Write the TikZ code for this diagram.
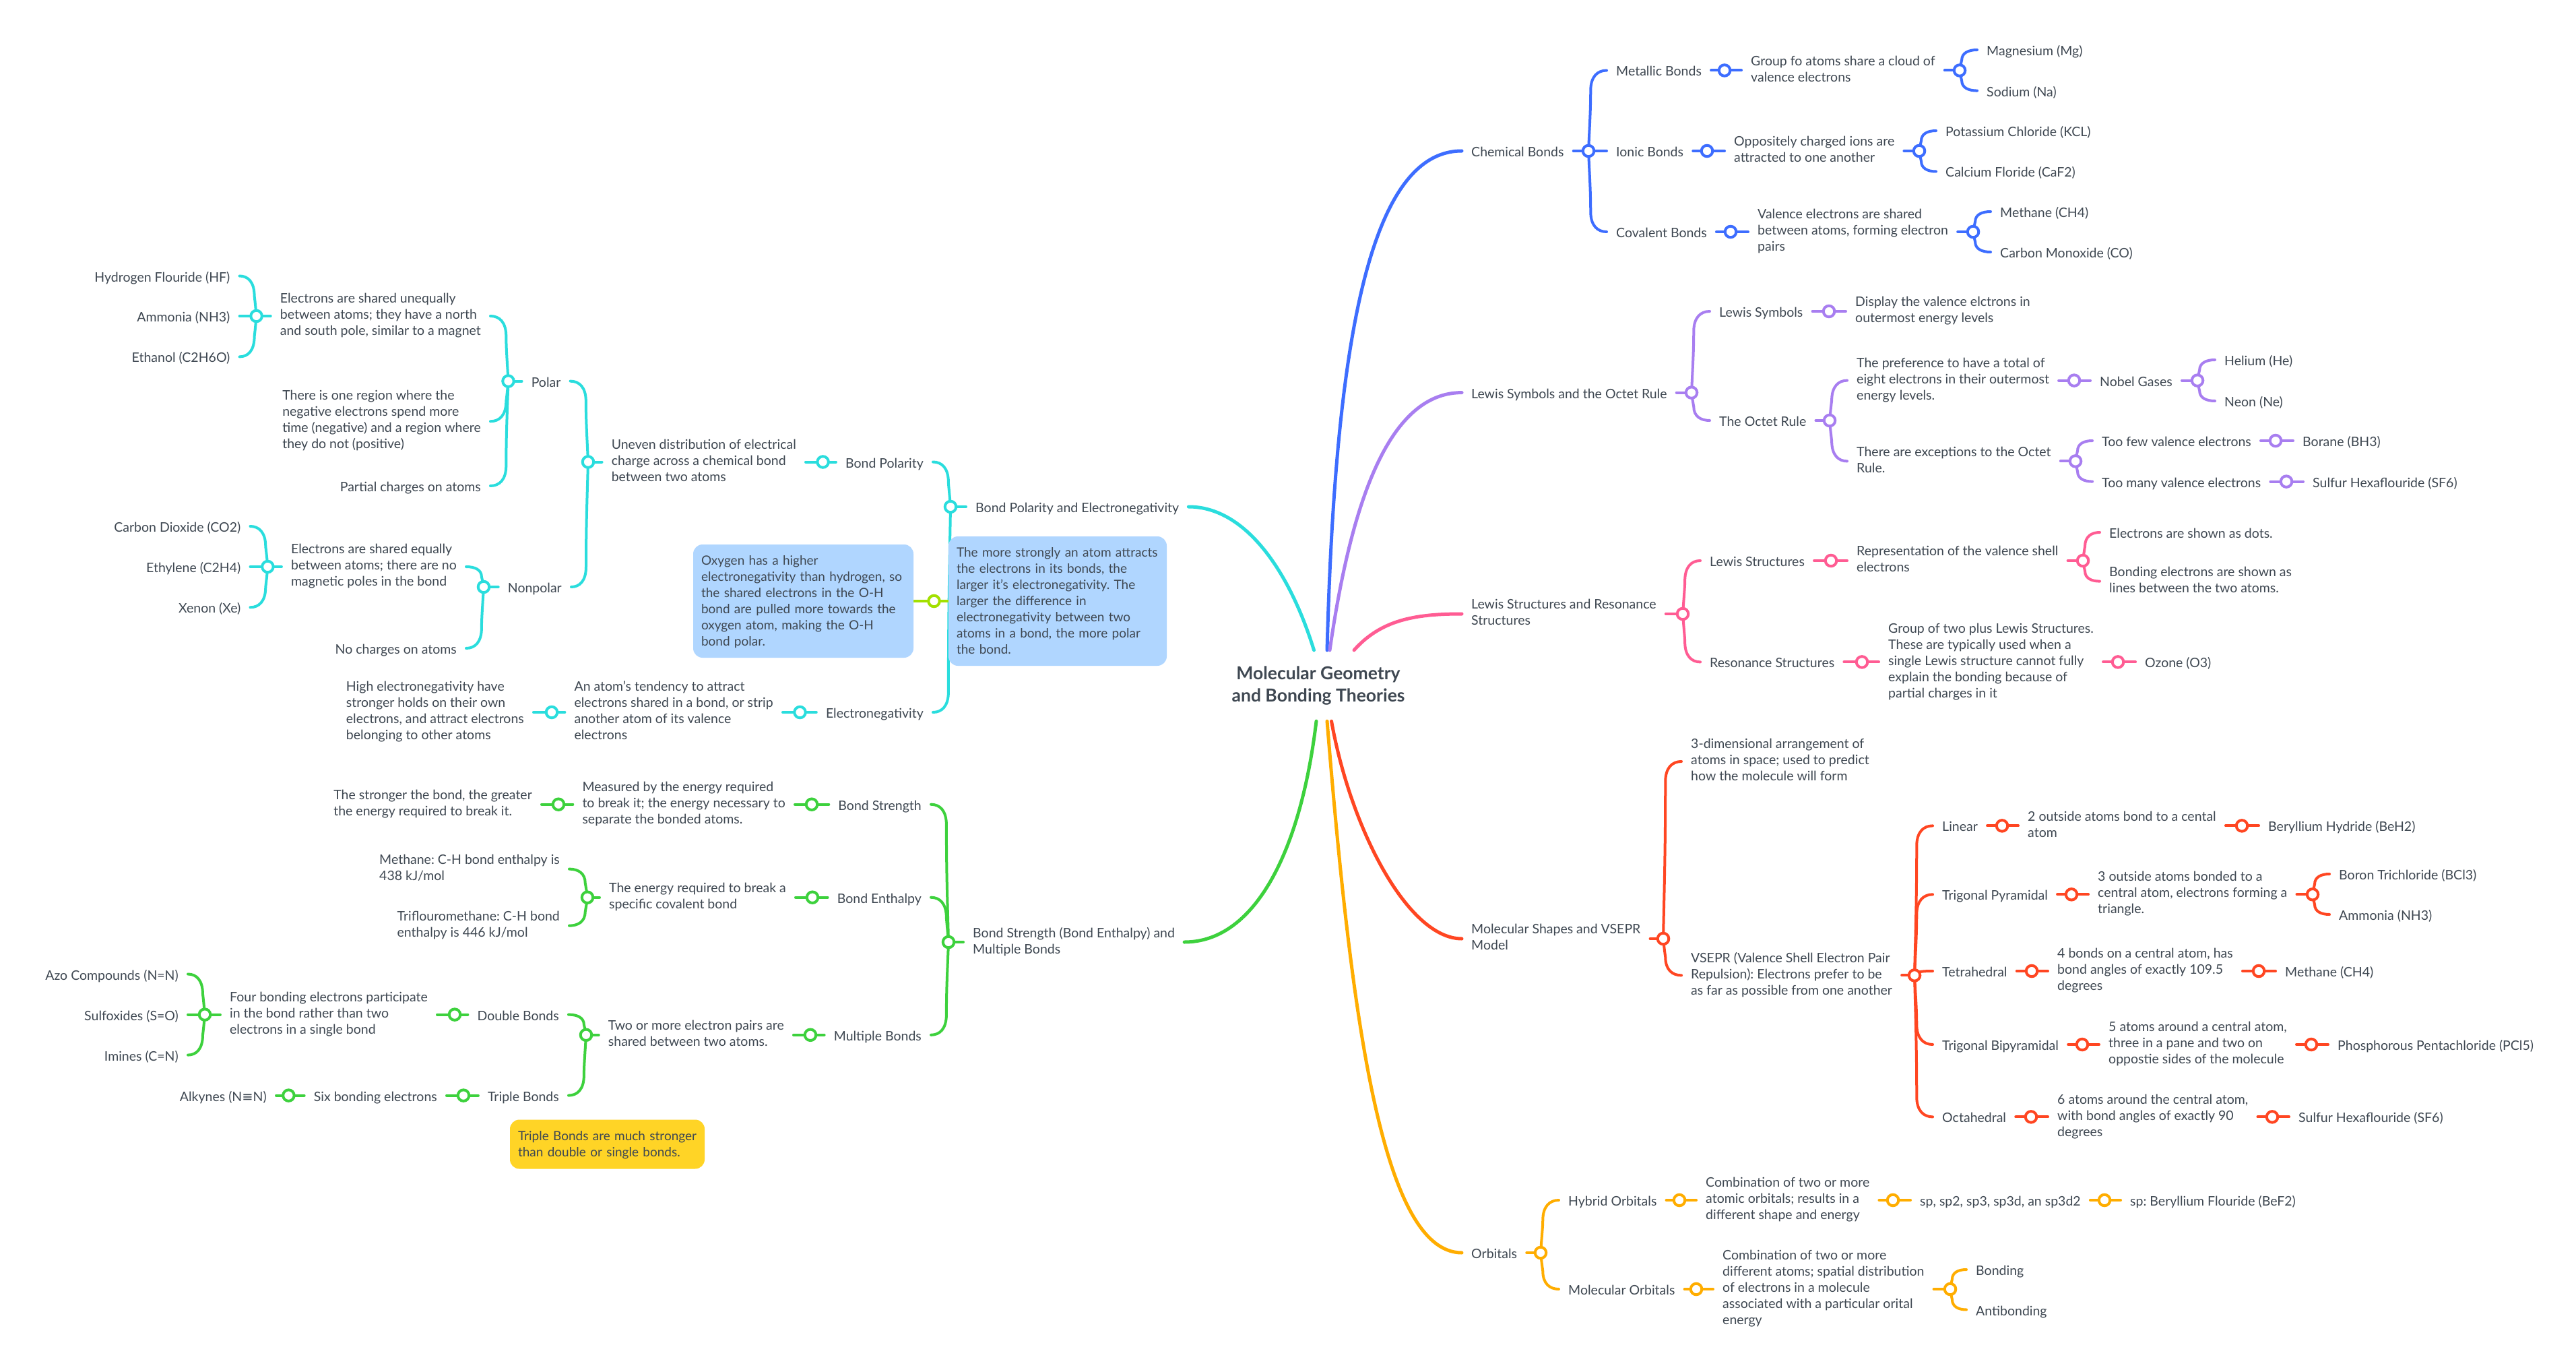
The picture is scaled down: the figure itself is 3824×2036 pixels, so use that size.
\documentclass[tikz,border=0pt]{standalone}
\usepackage{fontspec}
\setmainfont{Lato}
\newfontfamily\symfont{DejaVu Sans}
\usetikzlibrary{backgrounds,calc}
\definecolor{cBlue}{HTML}{3D6DFF}
\definecolor{cPurple}{HTML}{A87EF0}
\definecolor{cPink}{HTML}{FF5C93}
\definecolor{cCyan}{HTML}{2ADDDD}
\definecolor{cGreen}{HTML}{3DD13D}
\definecolor{cOrange}{HTML}{FFAD00}
\definecolor{cRed}{HTML}{FF4622}
\definecolor{cLime}{HTML}{A3E000}
\definecolor{cText}{HTML}{3F4852}
\definecolor{cNote}{HTML}{B0D6FF}
\definecolor{cYellow}{HTML}{FFD426}
\tikzset{
  txt/.style={font=\fontsize{19.5}{24}\selectfont\frenchspacing,text=cText,align=left,inner xsep=14pt,inner ysep=0pt,execute at begin node={\rule{0pt}{22pt}},execute at end node={\rule[-5pt]{0pt}{5pt}}},
  lab/.style={txt,anchor=west,xshift=-14pt},
  rab/.style={txt,anchor=east,xshift=14pt},
  dot/.style={circle,draw=#1,fill=white,line width=4pt,minimum size=16.5pt,inner sep=0pt},
  link/.style={line width=4pt,line cap=round},
  mainlink/.style={line width=5pt,line cap=round},
  note/.style={font=\fontsize{19}{24}\selectfont\frenchspacing,text=cText,align=left,inner ysep=0pt,rounded corners=14pt,fill=cNote,inner xsep=12pt,anchor=center,execute at begin node={\rule{0pt}{16pt}},execute at end node={\rule[-4pt]{0pt}{4pt}}}
}
\newcommand\mmbra[3]{\draw[link,#1] let \p1=(#2.center),\p2=(#3),\n1={\x2-\x1},\n2={\y2-\y1},\n3={min(30,abs(\n2)*0.5)*sign(\n2)} in (\p1) .. controls (\x1+0.06*\n1,\y1+0.3*\n2) and (\x1+0.12*\n1,\y1+0.5*\n2) .. (\x1+0.12*\n1,\y2-\n3) .. controls (\x1+0.12*\n1,\y2-0.3*\n3) and (\x1+0.5*\n1,\y2) .. (\p2);}
\begin{document}
\begin{tikzpicture}[x=1pt,y=-1pt]
\useasboundingbox (0,0) rectangle (3824,2036);
% root
\node[font=\fontsize{26.5}{33}\selectfont\bfseries,text=cText,align=center,minimum height=105pt,minimum width=270pt,inner xsep=0pt,inner ysep=0pt,execute at begin node={\rule{0pt}{30pt}},execute at end node={\rule[-5pt]{0pt}{5pt}}] (root) at (1957,1017.5) {Molecular Geometry\\and Bonding Theories};
% blue
\node[lab] (chem) at (2184,224) {Chemical Bonds};
\node[dot=cBlue] (jchem) at (2358,224) {};
\node[lab] (met) at (2399,104.5) {Metallic Bonds};
\node[dot=cBlue] (dmet) at (2560,104.5) {};
\node[lab] (metd) at (2599,104.5) {Group fo atoms share a cloud of\\valence electrons};
\node[dot=cBlue] (jmetd) at (2909,104.5) {};
\node[lab] (mg) at (2949,74) {Magnesium (Mg)};
\node[lab] (na) at (2949,134.6) {Sodium (Na)};
\node[lab] (ion) at (2399,224) {Ionic Bonds};
\node[dot=cBlue] (dion) at (2534,224) {};
\node[lab] (iond) at (2574,224) {Oppositely charged ions are\\attracted to one another};
\node[dot=cBlue] (jiond) at (2849,224) {};
\node[lab] (kcl) at (2888,194) {Potassium Chloride (KCL)};
\node[lab] (caf) at (2888,254.5) {Calcium Floride (CaF2)};
\node[lab] (cov) at (2399,344) {Covalent Bonds};
\node[dot=cBlue] (dcov) at (2569,344) {};
\node[lab] (covd) at (2609,344) {Valence electrons are shared\\between atoms, forming electron\\pairs};
\node[dot=cBlue] (jcovd) at (2929,344) {};
\node[lab] (meth) at (2969,314) {Methane (CH4)};
\node[lab] (cmo) at (2969,374) {Carbon Monoxide (CO)};
% purple
\node[lab] (lso) at (2184,582.6) {Lewis Symbols and the Octet Rule};
\node[dot=cPurple] (jlso) at (2511,582.6) {};
\node[lab] (ls) at (2552,462) {Lewis Symbols};
\node[dot=cPurple] (dls) at (2715,462) {};
\node[lab] (lsd) at (2754,462) {Display the valence elctrons in\\outermost energy levels};
\node[lab] (oct) at (2552,624) {The Octet Rule};
\node[dot=cPurple] (joct) at (2716,624) {};
\node[lab] (pref) at (2756,564.6) {The preference to have a total of\\eight electrons in their outermost\\energy levels.};
\node[dot=cPurple] (dpref) at (3079,564.6) {};
\node[lab] (nob) at (3117,564.6) {Nobel Gases};
\node[dot=cPurple] (jnob) at (3262,564.6) {};
\node[lab] (he) at (3302,534) {Helium (He)};
\node[lab] (ne) at (3302,595) {Neon (Ne)};
\node[lab] (exc) at (2756,684.4) {There are exceptions to the Octet\\Rule.};
\node[dot=cPurple] (jexc) at (3081,684.4) {};
\node[lab] (few) at (3120,654) {Too few valence electrons};
\node[dot=cPurple] (dfew) at (3378,654) {};
\node[lab] (bor) at (3418,654) {Borane (BH3)};
\node[lab] (many) at (3120,714.6) {Too many valence electrons};
\node[dot=cPurple] (dmany) at (3394,714.6) {};
\node[lab] (sf) at (3433,714.6) {Sulfur Hexaflouride (SF6)};
% pink
\node[lab] (lsr) at (2184,911) {Lewis Structures and Resonance\\Structures};
\node[dot=cPink] (jlsr) at (2498,911) {};
\node[lab] (lst) at (2538,832) {Lewis Structures};
\node[dot=cPink] (dlst) at (2718,832) {};
\node[lab] (rep) at (2756,832) {Representation of the valence shell\\electrons};
\node[dot=cPink] (jrep) at (3092,832) {};
\node[lab] (dots) at (3131,790) {Electrons are shown as dots.};
\node[lab] (lines) at (3131,862.6) {Bonding electrons are shown as\\lines between the two atoms.};
\node[lab] (res) at (2538,982.4) {Resonance Structures};
\node[dot=cPink] (dres) at (2764,982.4) {};
\node[lab] (grp) at (2803,982.4) {Group of two plus Lewis Structures.\\These are typically used when a\\single Lewis structure cannot fully\\explain the bonding because of\\partial charges in it};
\node[dot=cPink] (dgrp) at (3144,982.4) {};
\node[lab] (ozo) at (3184,982.4) {Ozone (O3)};
% red
\node[lab] (msv) at (2184,1393) {Molecular Shapes and VSEPR\\Model};
\node[dot=cRed] (jmsv) at (2469,1393) {};
\node[lab] (tdim) at (2510,1130) {3-dimensional arrangement of\\atoms in space; used to predict\\how the molecule will form};
\node[lab] (vsp) at (2510,1447.4) {VSEPR (Valence Shell Electron Pair\\Repulsion): Electrons prefer to be\\as far as possible from one another};
\node[dot=cRed] (jvsp) at (2842,1447.4) {};
\node[lab] (lin) at (2883,1225.4) {Linear};
\node[dot=cRed] (dlin) at (2972,1225.4) {};
\node[lab] (lind) at (3010,1225.4) {2 outside atoms bond to a cental\\atom};
\node[dot=cRed] (dlind) at (3328,1225.4) {};
\node[lab] (beh) at (3367,1225.4) {Beryllium Hydride (BeH2)};
\node[lab] (tpy) at (2883,1327.3) {Trigonal Pyramidal};
\node[dot=cRed] (dtpy) at (3075,1327.3) {};
\node[lab] (tpyd) at (3114,1327.3) {3 outside atoms bonded to a\\central atom, electrons forming a\\triangle.};
\node[dot=cRed] (jtpyd) at (3433,1327.3) {};
\node[lab] (bcl) at (3472,1297) {Boron Trichloride (BCl3)};
\node[lab] (nh) at (3472,1357) {Ammonia (NH3)};
\node[lab] (tet) at (2883,1441) {Tetrahedral};
\node[dot=cRed] (dtet) at (3016,1441) {};
\node[lab] (tetd) at (3054,1441) {4 bonds on a central atom, has\\bond angles of exactly 109.5\\degrees};
\node[dot=cRed] (dtetd) at (3353,1441) {};
\node[lab] (mch) at (3392,1441) {Methane (CH4)};
\node[lab] (tbp) at (2883,1550) {Trigonal Bipyramidal};
\node[dot=cRed] (dtbp) at (3091,1550) {};
\node[lab] (tbpd) at (3130,1550) {5 atoms around a central atom,\\three in a pane and two on\\oppostie sides of the molecule};
\node[dot=cRed] (dtbpd) at (3431,1550) {};
\node[lab] (pcl) at (3470,1550) {Phosphorous Pentachloride (PCl5)};
\node[lab] (oh) at (2883,1657.4) {Octahedral};
\node[dot=cRed] (doh) at (3015,1657.4) {};
\node[lab] (ohd) at (3054,1657.4) {6 atoms around the central atom,\\with bond angles of exactly 90\\degrees};
\node[dot=cRed] (dohd) at (3373,1657.4) {};
\node[lab] (sfb) at (3412,1657.4) {Sulfur Hexaflouride (SF6)};
% orange
\node[lab] (orb) at (2184,1859) {Orbitals};
\node[dot=cOrange] (jorb) at (2287,1859) {};
\node[lab] (hyb) at (2328,1781) {Hybrid Orbitals};
\node[dot=cOrange] (dhyb) at (2493,1781) {};
\node[lab] (hybd) at (2532,1781) {Combination of two or more\\atomic orbitals; results in a\\different shape and energy};
\node[dot=cOrange] (dhybd) at (2810,1781) {};
\node[lab] (spx) at (2850,1781) {sp, sp2, sp3, sp3d, an sp3d2};
\node[dot=cOrange] (dspx) at (3124,1781) {};
\node[lab] (spb) at (3162,1781) {sp: Beryllium Flouride (BeF2)};
\node[lab] (mol) at (2328,1913) {Molecular Orbitals};
\node[dot=cOrange] (dmol) at (2518,1913) {};
\node[lab] (mold) at (2557,1913) {Combination of two or more\\different atoms; spatial distribution\\of electrons in a molecule\\associated with a particular orital\\energy};
\node[dot=cOrange] (jmold) at (2895,1913) {};
\node[lab] (bon) at (2933,1884) {Bonding};
\node[lab] (abon) at (2933,1943.5) {Antibonding};
% cyan
\node[lab] (bpe) at (1448,752) {Bond Polarity and Electronegativity};
\node[dot=cCyan] (jbpe) at (1411,752) {};
\node[rab] (bp) at (1371,685.5) {Bond Polarity};
\node[dot=cCyan] (dbp) at (1221.6,685.5) {};
\node[rab] (bpd) at (1182,685.5) {Uneven distribution of electrical\\charge across a chemical bond\\between two atoms};
\node[dot=cCyan] (jbpd) at (873,685.5) {};
\node[rab] (pol) at (832.6,565.6) {Polar};
\node[dot=cCyan] (jpol) at (754.5,565.6) {};
\node[rab] (une) at (714,469) {Electrons are shared unequally\\between atoms; they have a north\\and south pole, similar to a magnet};
\node[dot=cCyan] (june) at (380.6,469) {};
\node[rab] (hf) at (341.6,409.5) {Hydrogen Flouride (HF)};
\node[rab] (amm) at (341.6,469) {Ammonia (NH3)};
\node[rab] (eth) at (341.6,529.4) {Ethanol (C2H6O)};
\node[rab] (reg) at (714,625.3) {There is one region where the\\negative electrons spend more\\time (negative) and a region where\\they do not (positive)};
\node[rab] (par) at (714,721) {Partial charges on atoms};
\node[rab] (npl) at (834,871) {Nonpolar};
\node[dot=cCyan] (jnpl) at (718,871) {};
\node[rab] (equ) at (678,841) {Electrons are shared equally\\between atoms; there are no\\magnetic poles in the bond};
\node[dot=cCyan] (jequ) at (397.4,841) {};
\node[rab] (co2) at (357.5,781) {Carbon Dioxide (CO2)};
\node[rab] (c2h) at (357.5,841) {Ethylene (C2H4)};
\node[rab] (xe) at (357.5,901.3) {Xenon (Xe)};
\node[rab] (noc) at (678,962) {No charges on atoms};
\node[rab] (en) at (1371,1057) {Electronegativity};
\node[dot=cCyan] (den) at (1187.5,1057) {};
\node[rab] (end) at (1148,1057) {An atom's tendency to attract\\electrons shared in a bond, or strip\\another atom of its valence\\electrons};
\node[dot=cCyan] (dend) at (819,1057) {};
\node[rab] (hig) at (778,1057) {High electronegativity have\\stronger holds on their own\\electrons, and attract electrons\\belonging to other atoms};
% notes
\node[note,minimum width=327pt,minimum height=168pt,text width=303pt] (noteA) at (1192.5,892) {Oxygen has a higher\\electronegativity than hydrogen, so\\the shared electrons in the O-H\\bond are pulled more towards the\\oxygen atom, making the O-H\\bond polar.};
\node[note,minimum width=324pt,minimum height=192pt,text width=300pt] (noteB) at (1570,892) {The more strongly an atom attracts\\the electrons in its bonds, the\\larger it's electronegativity. The\\larger the difference in\\electronegativity between two\\atoms in a bond, the more polar\\the bond.};
\node[dot=cLime] (dnote) at (1386.5,892) {};
% green
\node[lab] (bse) at (1444,1398) {Bond Strength (Bond Enthalpy) and\\Multiple Bonds};
\node[dot=cGreen] (jbse) at (1408,1398) {};
\node[rab] (bs) at (1368,1193.7) {Bond Strength};
\node[dot=cGreen] (dbs) at (1205,1193.7) {};
\node[rab] (bsd) at (1166,1193.7) {Measured by the energy required\\to break it; the energy necessary to\\separate the bonded atoms.};
\node[dot=cGreen] (dbsd) at (829,1193.7) {};
\node[rab] (str) at (790,1193.7) {The stronger the bond, the greater\\the energy required to break it.};
\node[rab] (be) at (1368,1331.7) {Bond Enthalpy};
\node[dot=cGreen] (dbe) at (1206,1331.7) {};
\node[rab] (bed) at (1167,1331.7) {The energy required to break a\\specific covalent bond};
\node[dot=cGreen] (jbed) at (872,1331.7) {};
\node[rab] (mtn) at (831,1289.6) {Methane: C-H bond enthalpy is\\438 kJ/mol};
\node[rab] (tri) at (831,1373.7) {Triflouromethane: C-H bond\\enthalpy is 446 kJ/mol};
\node[rab] (mb) at (1368,1535.8) {Multiple Bonds};
\node[dot=cGreen] (dmb) at (1203,1535.8) {};
\node[rab] (mbd) at (1164,1535.8) {Two or more electron pairs are\\shared between two atoms.};
\node[dot=cGreen] (jmbd) at (870,1535.8) {};
\node[rab] (dbl) at (830,1505.6) {Double Bonds};
\node[dot=cGreen] (ddbl) at (675,1505.6) {};
\node[rab] (dbld) at (635,1505.6) {Four bonding electrons participate\\in the bond rather than two\\electrons in a single bond};
\node[dot=cGreen] (jdbld) at (304,1505.6) {};
\node[rab] (azo) at (265,1445.5) {Azo Compounds (N=N)};
\node[rab] (sul) at (265,1505.6) {Sulfoxides (S=O)};
\node[rab] (imi) at (265,1565.6) {Imines (C=N)};
\node[rab] (tpl) at (830,1625.6) {Triple Bonds};
\node[dot=cGreen] (dtpl) at (688,1625.6) {};
\node[rab] (six) at (649,1625.6) {Six bonding electrons};
\node[dot=cGreen] (dsix) at (428.4,1625.6) {};
\node[rab] (alk) at (396,1625.6) {Alkynes (N{\symfont\char"2261}N)};
\node[note,fill=cYellow,minimum width=289pt,minimum height=73pt,text width=265pt] (noteC) at (901.5,1698) {Triple Bonds are much stronger\\than double or single bonds.};
% connectors
\begin{pgfonlayer}{background}
\fill[white] (0,0) rectangle (3824,2036);
\draw[mainlink,cBlue] ([xshift=13pt]root.north) .. controls (1982,500) and (2035,224) .. (chem.west);
\draw[mainlink,cPurple] ([xshift=17pt]root.north) .. controls (2005,750) and (2060,582.6) .. (lso.west);
\draw[mainlink,cPink] ([xshift=53pt]root.north) .. controls (2050,920) and (2100,911) .. (lsr.west);
\draw[mainlink,cRed] ([xshift=19.5pt]root.south) .. controls (2005,1230) and (2090,1393) .. (msv.west);
\draw[mainlink,cOrange] ([xshift=13pt]root.south) .. controls (2005,1500) and (2050,1859) .. (orb.west);
\draw[mainlink,cCyan] ([xshift=-6.5pt]root.north) .. controls (1915,850) and (1850,752) .. (bpe.east);
\draw[mainlink,cGreen] ([xshift=-3pt]root.south) .. controls (1930,1270) and (1860,1398) .. (bse.east);
% blue
\draw[link,cBlue] (chem.east) -- (jchem);
\mmbra{cBlue}{jchem}{met.west}\mmbra{cBlue}{jchem}{ion.west}\mmbra{cBlue}{jchem}{cov.west}
\draw[link,cBlue] (met.east) -- (dmet) -- (metd.west);
\draw[link,cBlue] (metd.east) -- (jmetd);
\mmbra{cBlue}{jmetd}{mg.west}\mmbra{cBlue}{jmetd}{na.west}
\draw[link,cBlue] (ion.east) -- (dion) -- (iond.west);
\draw[link,cBlue] (iond.east) -- (jiond);
\mmbra{cBlue}{jiond}{kcl.west}\mmbra{cBlue}{jiond}{caf.west}
\draw[link,cBlue] (cov.east) -- (dcov) -- (covd.west);
\draw[link,cBlue] (covd.east) -- (jcovd);
\mmbra{cBlue}{jcovd}{meth.west}\mmbra{cBlue}{jcovd}{cmo.west}
% purple
\draw[link,cPurple] (lso.east) -- (jlso);
\mmbra{cPurple}{jlso}{ls.west}\mmbra{cPurple}{jlso}{oct.west}
\draw[link,cPurple] (ls.east) -- (dls) -- (lsd.west);
\draw[link,cPurple] (oct.east) -- (joct);
\mmbra{cPurple}{joct}{pref.west}\mmbra{cPurple}{joct}{exc.west}
\draw[link,cPurple] (pref.east) -- (dpref) -- (nob.west);
\draw[link,cPurple] (nob.east) -- (jnob);
\mmbra{cPurple}{jnob}{he.west}\mmbra{cPurple}{jnob}{ne.west}
\draw[link,cPurple] (exc.east) -- (jexc);
\mmbra{cPurple}{jexc}{few.west}\mmbra{cPurple}{jexc}{many.west}
\draw[link,cPurple] (few.east) -- (dfew) -- (bor.west);
\draw[link,cPurple] (many.east) -- (dmany) -- (sf.west);
% pink
\draw[link,cPink] (lsr.east) -- (jlsr);
\mmbra{cPink}{jlsr}{lst.west}\mmbra{cPink}{jlsr}{res.west}
\draw[link,cPink] (lst.east) -- (dlst) -- (rep.west);
\draw[link,cPink] (rep.east) -- (jrep);
\mmbra{cPink}{jrep}{dots.west}\mmbra{cPink}{jrep}{lines.west}
\draw[link,cPink] (res.east) -- (dres) -- (grp.west);
\draw[link,cPink] (grp.east) -- (dgrp) -- (ozo.west);
% red
\draw[link,cRed] (msv.east) -- (jmsv);
\mmbra{cRed}{jmsv}{tdim.west}\mmbra{cRed}{jmsv}{vsp.west}
\draw[link,cRed] (vsp.east) -- (jvsp);
\mmbra{cRed}{jvsp}{lin.west}\mmbra{cRed}{jvsp}{tpy.west}\mmbra{cRed}{jvsp}{tet.west}\mmbra{cRed}{jvsp}{tbp.west}\mmbra{cRed}{jvsp}{oh.west}
\draw[link,cRed] (lin.east) -- (dlin) -- (lind.west);
\draw[link,cRed] (lind.east) -- (dlind) -- (beh.west);
\draw[link,cRed] (tpy.east) -- (dtpy) -- (tpyd.west);
\draw[link,cRed] (tpyd.east) -- (jtpyd);
\mmbra{cRed}{jtpyd}{bcl.west}\mmbra{cRed}{jtpyd}{nh.west}
\draw[link,cRed] (tet.east) -- (dtet) -- (tetd.west);
\draw[link,cRed] (tetd.east) -- (dtetd) -- (mch.west);
\draw[link,cRed] (tbp.east) -- (dtbp) -- (tbpd.west);
\draw[link,cRed] (tbpd.east) -- (dtbpd) -- (pcl.west);
\draw[link,cRed] (oh.east) -- (doh) -- (ohd.west);
\draw[link,cRed] (ohd.east) -- (dohd) -- (sfb.west);
% orange
\draw[link,cOrange] (orb.east) -- (jorb);
\mmbra{cOrange}{jorb}{hyb.west}\mmbra{cOrange}{jorb}{mol.west}
\draw[link,cOrange] (hyb.east) -- (dhyb) -- (hybd.west);
\draw[link,cOrange] (hybd.east) -- (dhybd) -- (spx.west);
\draw[link,cOrange] (spx.east) -- (dspx) -- (spb.west);
\draw[link,cOrange] (mol.east) -- (dmol) -- (mold.west);
\draw[link,cOrange] (mold.east) -- (jmold);
\mmbra{cOrange}{jmold}{bon.west}\mmbra{cOrange}{jmold}{abon.west}
% cyan
\draw[link,cCyan] (bpe.west) -- (jbpe);
\mmbra{cCyan}{jbpe}{bp.east}\mmbra{cCyan}{jbpe}{en.east}
\draw[link,cCyan] (bp.west) -- (dbp) -- (bpd.east);
\draw[link,cCyan] (bpd.west) -- (jbpd);
\mmbra{cCyan}{jbpd}{pol.east}\mmbra{cCyan}{jbpd}{npl.east}
\draw[link,cCyan] (pol.west) -- (jpol);
\mmbra{cCyan}{jpol}{une.east}\mmbra{cCyan}{jpol}{reg.east}\mmbra{cCyan}{jpol}{par.east}
\draw[link,cCyan] (une.west) -- (june);
\mmbra{cCyan}{june}{hf.east}\mmbra{cCyan}{june}{amm.east}\mmbra{cCyan}{june}{eth.east}
\draw[link,cCyan] (npl.west) -- (jnpl);
\mmbra{cCyan}{jnpl}{equ.east}\mmbra{cCyan}{jnpl}{noc.east}
\draw[link,cCyan] (equ.west) -- (jequ);
\mmbra{cCyan}{jequ}{co2.east}\mmbra{cCyan}{jequ}{c2h.east}\mmbra{cCyan}{jequ}{xe.east}
\draw[link,cCyan] (en.west) -- (den) -- (end.east);
\draw[link,cCyan] (end.west) -- (dend) -- (hig.east);
\draw[link,cLime] (noteA.east) -- (dnote) -- (noteB.west);
% green
\draw[link,cGreen] (bse.west) -- (jbse);
\mmbra{cGreen}{jbse}{bs.east}\mmbra{cGreen}{jbse}{be.east}\mmbra{cGreen}{jbse}{mb.east}
\draw[link,cGreen] (bs.west) -- (dbs) -- (bsd.east);
\draw[link,cGreen] (bsd.west) -- (dbsd) -- (str.east);
\draw[link,cGreen] (be.west) -- (dbe) -- (bed.east);
\draw[link,cGreen] (bed.west) -- (jbed);
\mmbra{cGreen}{jbed}{mtn.east}\mmbra{cGreen}{jbed}{tri.east}
\draw[link,cGreen] (mb.west) -- (dmb) -- (mbd.east);
\draw[link,cGreen] (mbd.west) -- (jmbd);
\mmbra{cGreen}{jmbd}{dbl.east}\mmbra{cGreen}{jmbd}{tpl.east}
\draw[link,cGreen] (dbl.west) -- (ddbl) -- (dbld.east);
\draw[link,cGreen] (dbld.west) -- (jdbld);
\mmbra{cGreen}{jdbld}{azo.east}\mmbra{cGreen}{jdbld}{sul.east}\mmbra{cGreen}{jdbld}{imi.east}
\draw[link,cGreen] (tpl.west) -- (dtpl) -- (six.east);
\draw[link,cGreen] (six.west) -- (dsix) -- (alk.east);
\end{pgfonlayer}
\end{tikzpicture}
\end{document}
